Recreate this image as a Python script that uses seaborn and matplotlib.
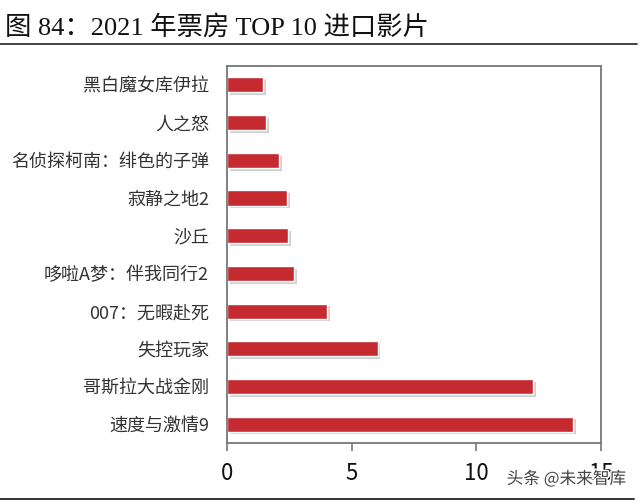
import pandas as pd
import seaborn as sns
import matplotlib.pyplot as plt
import matplotlib.patheffects as pe
from matplotlib.lines import Line2D

# 2021 年票房 TOP 10 进口影片（亿元，按图读数）
影片 = ["黑白魔女库伊拉", "人之怒", "名侦探柯南：绯色的子弹", "寂静之地2", "沙丘",
        "哆啦A梦：伴我同行2", "007：无暇赴死", "失控玩家", "哥斯拉大战金刚", "速度与激情9"]
票房 = [1.45, 1.57, 2.09, 2.41, 2.44, 2.69, 4.01, 6.04, 12.28, 13.88]
刻度 = [0, 5, 10, 15]

df = pd.DataFrame({"影片": 影片, "票房": 票房})

sns.set_theme(style="white")
plt.rcParams['font.family'] = ['Noto Sans CJK SC', 'DejaVu Sans']

fig = plt.figure(figsize=(6.4, 5.04), dpi=100)
ax = fig.add_axes([0.3547, 0.121, 0.5843, 0.748])

sns.barplot(data=df, x="票房", y="影片", orient="h", color="#C42A2F",
            width=0.4, saturation=1, ax=ax)

# 柱子加一点阴影
for p in ax.patches:
    p.set_path_effects([pe.SimplePatchShadow(offset=(2, -2), shadow_rgbFace="#999999", alpha=0.45),
                        pe.Normal()])

ax.set_xlim(0, 15)
ax.set_xticks(刻度)
ax.set_xticklabels([str(t) for t in 刻度], fontsize=16, color="#111111")
ax.tick_params(axis="x", direction="out", length=6, width=1.2, color="#777777", pad=8, bottom=True)
ax.tick_params(axis="y", length=0, pad=13, labelsize=13, labelcolor="#333333")
ax.set_xlabel("")
ax.set_ylabel("")

for s in ax.spines.values():
    s.set_visible(True)
    s.set_color("#777777")
    s.set_linewidth(1.3)

# 标题
fig.text(0.008, 1 - 35 / 504, "图 84：2021 年票房 TOP 10 进口影片",
         family=["Liberation Serif", "Noto Sans CJK SC"], fontsize=19, va="baseline", ha="left", color="#111111")
fig.add_artist(Line2D([0.0, 0.995], [1 - 44 / 504, 1 - 44 / 504], color="#333333", lw=1.3))
fig.add_artist(Line2D([0.0, 0.99], [1 - 499 / 504, 1 - 499 / 504], color="#222222", lw=1.3))

# 水印
fig.text(0.978, 1 - 479 / 504, "头条 @未来智库", fontsize=12, color="#444444",
         ha="right", va="center",
         path_effects=[pe.withStroke(linewidth=2, foreground="white")])

plt.savefig("out.png", dpi=100, facecolor="white")
